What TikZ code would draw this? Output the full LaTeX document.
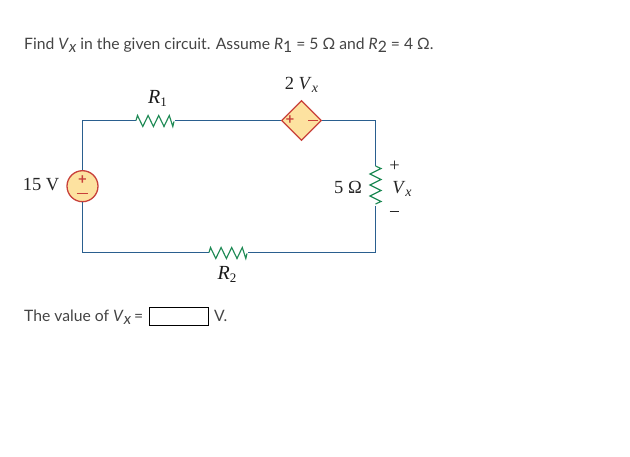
\documentclass[tikz,border=0pt]{standalone}
\usepackage{fontspec}
\usepackage{amsmath}
\setmainfont{Lato}
\newfontfamily\lab{Liberation Serif}
\usetikzlibrary{shapes.geometric}
\definecolor{wire}{HTML}{2A5F8F}
\definecolor{resgreen}{HTML}{1F8A55}
\definecolor{srcred}{HTML}{C8403A}
\definecolor{srcfill}{HTML}{FDE2A0}
\definecolor{txt}{HTML}{444444}
\newcommand{\sv}[1]{\textit{V}\raisebox{-2.6pt}{\textit{#1}}}
\newcommand{\ssb}[2]{\textit{#1}\raisebox{-2.6pt}{#2}}
\newcommand{\hzig}[1]{\draw[resline] (#1) -- ++(1.5,-5) -- ++(5.3,11) -- ++(5.3,-11) -- ++(5.3,11) -- ++(5.3,-11) -- ++(5.3,11) -- ++(5.3,-11) -- ++(3.5,11) -- ++(1.2,-5);}
\tikzset{
  x=1pt,y=-1pt,
  wireline/.style={draw=wire,line width=1.15pt},
  resline/.style={draw=resgreen,line width=1.15pt,line join=miter},
  srcshape/.style={circle,draw=srcred,fill=srcfill,line width=1.3pt,minimum size=31pt,inner sep=0pt},
  depshape/.style={diamond,draw=srcred,fill=srcfill,line width=1.3pt,minimum width=40pt,minimum height=40pt,inner sep=0pt,aspect=1},
  body/.style={anchor=base west,inner sep=0pt,font=\fontsize{15.7}{18}\selectfont,text=txt},
  clab/.style={inner sep=0pt,font=\lab\fontsize{18.5}{20}\selectfont,text=black!85},
  rlab/.style={inner sep=0pt,font=\lab\fontsize{20}{22}\selectfont,text=black!90},
  sign/.style={inner sep=0pt,text=srcred,font=\bfseries\fontsize{15}{15}\selectfont},
  answer/.style={draw=black,line width=1.1pt,minimum width=58.5pt,minimum height=18.5pt,inner sep=0pt}
}
\begin{document}
\begin{tikzpicture}
\useasboundingbox (0,0) rectangle (630,457);
\node[srcshape] (src) at (82.5,186.2) {};
\node[depshape] (dep) at (301.5,120.5) {};
\coordinate (r1l) at (136,120.5); \coordinate (r1r) at (174.5,120.5);
\coordinate (r2l) at (209,252.5); \coordinate (r2r) at (247.5,252.5);
\coordinate (r3t) at (375.5,166); \coordinate (r3b) at (375.5,206);
\draw[wireline] (src.north) |- (r1l);
\draw[wireline] (r1r) -- (dep.west);
\draw[wireline] (dep.east) -| (r3t);
\draw[wireline] (r3b) |- (r2r);
\draw[wireline] (r2l) -| (src.south);
\hzig{r1l}
\hzig{r2l}
\draw[resline] (r3t) -- ++(5.5,2.5) -- ++(-11,5.5) -- ++(11,5.5) -- ++(-11,5.5) -- ++(11,5.5) -- ++(-11,5.5) -- ++(11,5.5) -- ++(-5.5,2.5);
% source signs
\node[sign] (sp) at (82.5,180.5) {+};
\draw[srcred,line width=1.1pt] (76.5,193.5) -- (88,193.5);
\node[sign] (dp) at (290,120.5) {+};
\draw[srcred,line width=1.1pt] (308,120.5) -- (318,120.5);
% labels
\node[rlab] (l1) at (157.5,98) {\textit{R}\raisebox{-3pt}{\fontsize{13}{14}\selectfont 1}};
\node[rlab] (l2) at (227,274.5) {\textit{R}\raisebox{-3pt}{\fontsize{13}{14}\selectfont 2}};
\node[clab] (l3) at (301.5,85) {2\hspace{4.5pt}\textit{V}\raisebox{-3pt}{\fontsize{14}{14}\selectfont\textit{x}}};
\node[clab] (l4) at (41,185) {15 V};
\node[clab] (l5) at (348,187.5) {5 Ω};
\node[clab] (l6) at (394.5,166) {+};
\node[clab] (l7) at (402,189) {\textit{V}\raisebox{-3pt}{\fontsize{14}{14}\selectfont\textit{x}}};
\draw[black!85,line width=1pt] (389.5,211.5) -- (399,211.5);
% text
\node[body] (q) at (24,50) {Find \sv{x} in the given circuit. Assume \ssb{R}{1} = 5 Ω and \ssb{R}{2} = 4 Ω.};
\node[body] (v) at (24,321.5) {The value of \sv{x}\hspace{-1pt} =};
\node[answer] (box) at (179,316.5) {};
\node[body] (u) at (214,321.5) {V.};
\end{tikzpicture}
\end{document}
